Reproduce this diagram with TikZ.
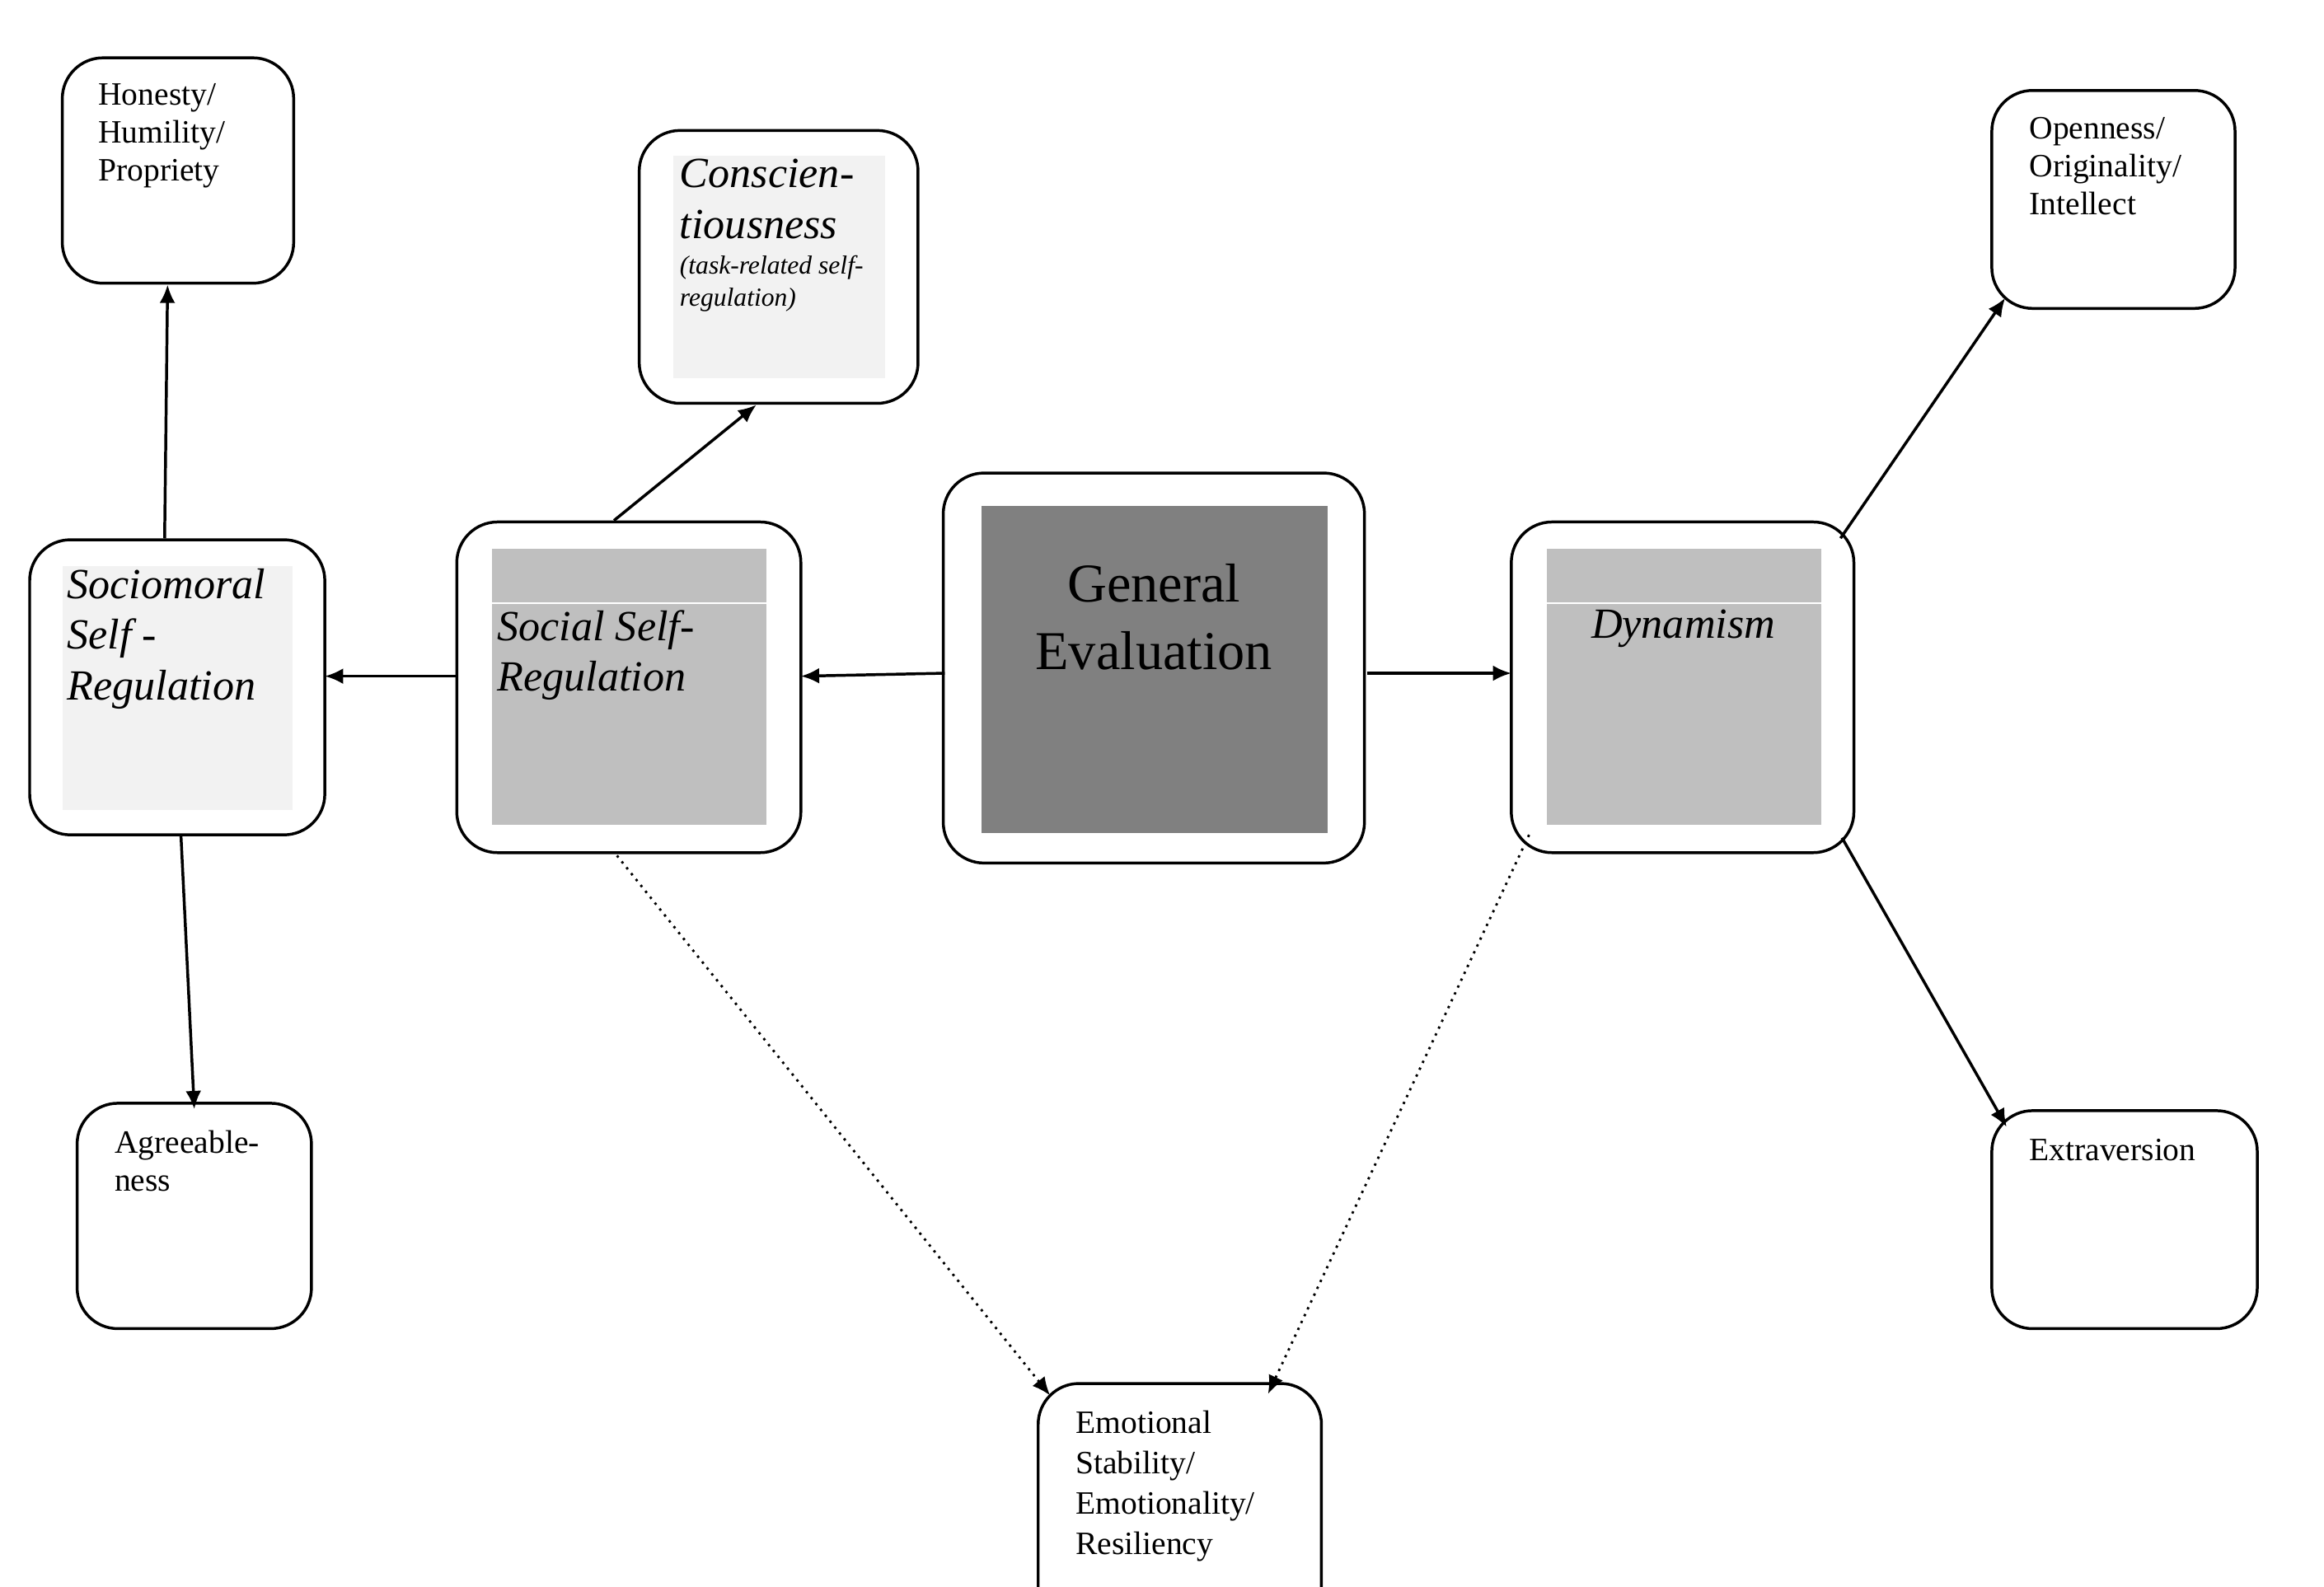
\documentclass[tikz,border=0pt]{standalone}
\usepackage{fontspec}
\setmainfont{Liberation Serif}
\usetikzlibrary{arrows.meta}
\begin{document}
\begin{tikzpicture}[x=0.02cm,y=-0.02cm,
  box/.style={draw,line width=1.1pt,rounded corners=0.55cm},
  arr/.style={line width=1.1pt,-{Latex[length=7pt,width=6pt]}},
  dot/.style={line width=0.9pt,dotted,-{Latex[length=7pt,width=6pt]}},
  sm/.style={anchor=north west,align=left,inner sep=0pt,font=\fontsize{12.5}{14.5}\selectfont},
  it/.style={anchor=north west,align=left,inner sep=0pt,font=\fontsize{16.5}{19.5}\selectfont\itshape}]
\useasboundingbox (0,0) rectangle (1567,1070);
\begin{scope}
\clip (0,0) rectangle (1567,1070);
% boxes
\draw[box] (42,39) rectangle (198,191); \coordinate (hon) at (120,115);
\draw[box] (431,88) rectangle (619,272);
\fill[black!5] (454,105) rectangle (597,255);
\draw[box] (1343,61) rectangle (1507,208);
\draw[box] (20,364) rectangle (219,563);
\fill[black!5] (42,382) rectangle (197,546);
\draw[box] (308,352) rectangle (540,575);
\fill[black!25] (332,370) rectangle (517,556);
\draw[white,line width=0.6pt] (332,407) -- (517,407);
\draw[box] (636,319) rectangle (920,582);
\fill[black!50] (662,341) rectangle (895,562);
\draw[box] (1019,352) rectangle (1250,575);
\fill[black!25] (1043,370) rectangle (1228,556);
\draw[white,line width=0.6pt] (1043,407) -- (1228,407);
\draw[box] (52,744) rectangle (210,896);
\draw[box] (1343,749) rectangle (1522,896);
\draw[box] (700,933) rectangle (891,1100);
% texts
\node[sm] (thon) at (66,56) {Honesty/\\Humility/\\Propriety};
\node[it] (tcon) at (458,107) {Conscien-\\tiousness};
\node[anchor=north west,align=left,inner sep=0pt,font=\fontsize{10}{12.5}\selectfont\itshape] (tcon2) at (458,172) {(task-related self-\\regulation)};
\node[sm] (topen) at (1368,79) {Openness/\\Originality/\\Intellect};
\node[it] (tsoc) at (45,383) {Sociomoral\\Self -\\Regulation};
\node[it] (tssr) at (335,411) {Social Self-\\Regulation};
\node[anchor=center,align=center,inner sep=0pt,font=\fontsize{21}{26}\selectfont] (tgen) at (778,416) {General\\Evaluation};
\node[it,anchor=north] (tdyn) at (1135,411) {Dynamism};
\node[sm] (tagr) at (77,762) {Agreeable-\\ness};
\node[sm] (text) at (1368,768) {Extraversion};
\node[sm,font=\fontsize{12.5}{15.5}\selectfont] (temo) at (725,951) {Emotional\\Stability/\\Emotionality/\\Resiliency};
% connectors
\coordinate (a1) at (111,363); \coordinate (b1) at (113,192);
\coordinate (a2) at (414,351); \coordinate (b2) at (510,273);
\coordinate (a3) at (637,454); \coordinate (b3) at (540,456);
\coordinate (a4) at (308,456); \coordinate (b4) at (219,456);
\coordinate (a5) at (922,454); \coordinate (b5) at (1019,454);
\coordinate (a6) at (1241,363); \coordinate (b6) at (1352,201);
\coordinate (a7) at (1242,565); \coordinate (b7) at (1353,760);
\coordinate (a8) at (122,563); \coordinate (b8) at (131,748);
\coordinate (a9) at (416,577); \coordinate (b9) at (708,941);
\coordinate (a10) at (1031,563); \coordinate (b10) at (855,940);
\draw[arr] (a1) -- (b1);
\draw[arr] (a2) -- (b2);
\draw[arr] (a3) -- (b3);
\draw[arr] (a4) -- (b4);
\draw[arr] (a5) -- (b5);
\draw[arr] (a6) -- (b6);
\draw[arr] (a7) -- (b7);
\draw[arr] (a8) -- (b8);
\draw[dot] (a9) -- (b9);
\draw[dot] (a10) -- (b10);
\end{scope}
\end{tikzpicture}
\end{document}
